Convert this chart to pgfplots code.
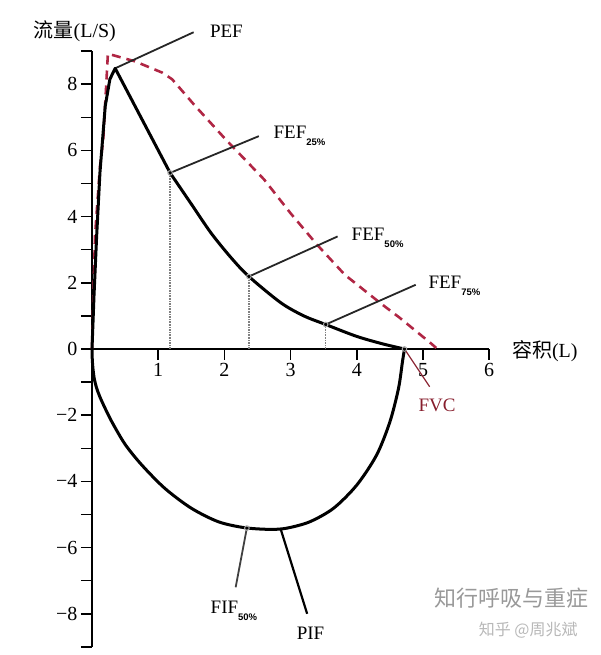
\documentclass[border=0pt]{standalone}
\usepackage{pgfplots}
\pgfplotsset{compat=1.18}
\usepackage{fontspec}
\setmainfont{Liberation Serif}
\newfontfamily\cjk{Noto Sans CJK SC}
\newfontfamily\subf{Liberation Sans}
\definecolor{dred}{RGB}{176,38,68}
\definecolor{fvcred}{RGB}{135,30,45}
\newcommand{\sub}[1]{\raisebox{-7pt}{\subf\bfseries\fontsize{9.5}{10}\selectfont #1}}
\begin{document}
\begin{tikzpicture}
\begin{axis}[
  x=66.2pt, y=33.1pt,
  xmin=0, xmax=6, ymin=-9, ymax=9,
  axis x line=middle, axis y line=left,
  axis line style={-, line width=1.5pt},
  every inner x axis line/.append style={-},
  every outer y axis line/.append style={-},
  xtick={1,2,3,4,5,6},
  ytick={-8,-6,-4,-2,0,2,4,6,8},
  yticklabels={−8,−6,−4,−2,0,2,4,6,8},
  minor ytick={-9,-7,-5,-3,-1,1,3,5,7,9},
  tick align=outside,
  major tick length=11pt, minor tick length=11pt,
  tick style={line width=1.5pt, black},
  ticklabel style={font=\fontsize{20}{20}\selectfont},
  /pgf/number format/assume math mode=true,
  clip=false,
]
% dotted verticals
\addplot[gray, densely dotted, line width=1.6pt] coordinates {(1.18,0) (1.18,5.32)};
\addplot[gray, densely dotted, line width=1.6pt] coordinates {(2.37,0) (2.37,2.19)};
\addplot[gray, densely dotted, line width=1.6pt] coordinates {(3.53,0) (3.53,0.74)};
% red dashed predicted curve
\addplot[dred, line width=2.6pt, dash pattern=on 9pt off 6pt] coordinates {
 (0,0) (0.045,3.4) (0.12,5.5) (0.17,6.33) (0.21,7.8) (0.24,8.92)
 (0.65,8.69) (1.06,8.35) (1.21,8.15) (1.56,7.34) (2.02,6.33) (2.6,5.12)
 (3.0,4.1) (3.4,3.15) (3.82,2.24) (4.36,1.38) (4.65,0.94) (5.12,0.17) (5.2,0.03)};
% FVC leader
\addplot[fvcred, line width=1.2pt] coordinates {(4.72,0) (5.1,-1.14)};
% leader lines
\addplot[black!85, line width=1.8pt] coordinates {(0.35,8.48) (1.535,9.57)};
\addplot[black!85, line width=1.8pt] coordinates {(1.18,5.32) (2.52,6.43)};
\addplot[black!85, line width=1.8pt] coordinates {(2.37,2.19) (3.71,3.4)};
\addplot[black!85, line width=1.8pt] coordinates {(3.53,0.74) (4.89,1.94)};
\addplot[black!75, line width=1.8pt] coordinates {(2.34,-5.4) (2.17,-7.2)};
\addplot[black, line width=2.2pt] coordinates {(2.85,-5.44) (3.25,-8.0)};
% expiratory curve
\addplot[black, line width=3pt, line join=round] coordinates {
 (0,0) (0.03,1.6) (0.07,3.4) (0.12,5.33) (0.2,7.34) (0.27,8.15) (0.35,8.48)
 (1.18,5.32)};
\addplot[black, line width=3pt, smooth, tension=0.5] coordinates {
 (1.18,5.32) (1.5,4.38) (1.8,3.5) (2.1,2.76) (2.37,2.19) (2.85,1.4)
 (3.2,1.0) (3.53,0.74) (4.0,0.38) (4.4,0.15) (4.72,0.0)};
% inspiratory curve
\addplot[black, line width=3pt, smooth, tension=0.5] coordinates {
 (0,0) (0.004,-0.3) (0.015,-0.6) (0.035,-0.9) (0.07,-1.18) (0.12,-1.45)
 (0.2,-1.8) (0.30,-2.2) (0.50,-2.88)
 (0.75,-3.5) (1.10,-4.21) (1.5,-4.81) (1.91,-5.22) (2.31,-5.4)
 (2.7,-5.45) (2.95,-5.41) (3.29,-5.22) (3.65,-4.81) (4.0,-4.11)
 (4.3,-3.2) (4.5,-2.2) (4.63,-1.19) (4.69,-0.38) (4.72,0)};
% markers
\addplot[only marks, mark=o, mark size=2.3pt, gray!70, mark options={line width=1pt, fill=white}] coordinates {
 (1.18,5.32) (2.37,2.19) (3.53,0.74) (2.34,-5.41) (4.72,0)};
% labels
\node[anchor=base west, font=\fontsize{19}{19}\selectfont] at (axis cs:1.73,9.41) {PEF};
\node[anchor=base west, font=\fontsize{19}{19}\selectfont] at (axis cs:2.69,6.37) {FEF\sub{25\%}};
\node[anchor=base west, font=\fontsize{19}{19}\selectfont] at (axis cs:3.87,3.29) {FEF\sub{50\%}};
\node[anchor=base west, font=\fontsize{19}{19}\selectfont] at (axis cs:5.03,1.84) {FEF\sub{75\%}};
\node[anchor=base west, font=\fontsize{19}{19}\selectfont] at (axis cs:1.74,-7.99) {FIF\sub{50\%}};
\node[anchor=base west, font=\fontsize{19}{19}\selectfont] at (axis cs:3.04,-8.78) {PIF};
\node[anchor=base west, font=\fontsize{19}{19}\selectfont, text=fvcred] at (axis cs:4.88,-1.89) {FVC};
\node[font=\fontsize{20}{20}\selectfont] at (axis cs:-0.26,9.6) {{\cjk 流量}(L/S)};
\node[font=\fontsize{20}{20}\selectfont] at (axis cs:6.84,-0.06) {{\cjk 容积}(L)};
\node[font=\fontsize{22}{22}\selectfont\cjk, text=black!40] at (axis cs:6.34,-7.52) {知行呼吸与重症};
\node[font=\fontsize{16}{16}\selectfont\cjk, text=black!28] at (axis cs:6.59,-8.49) {知乎 @周兆斌};
\coordinate (O) at (axis cs:0,0);
\end{axis}
\pgfresetboundingbox
\path[use as bounding box] (O) ++(-92pt,-306pt) rectangle ++(600pt,655pt);
\end{tikzpicture}
\end{document}
